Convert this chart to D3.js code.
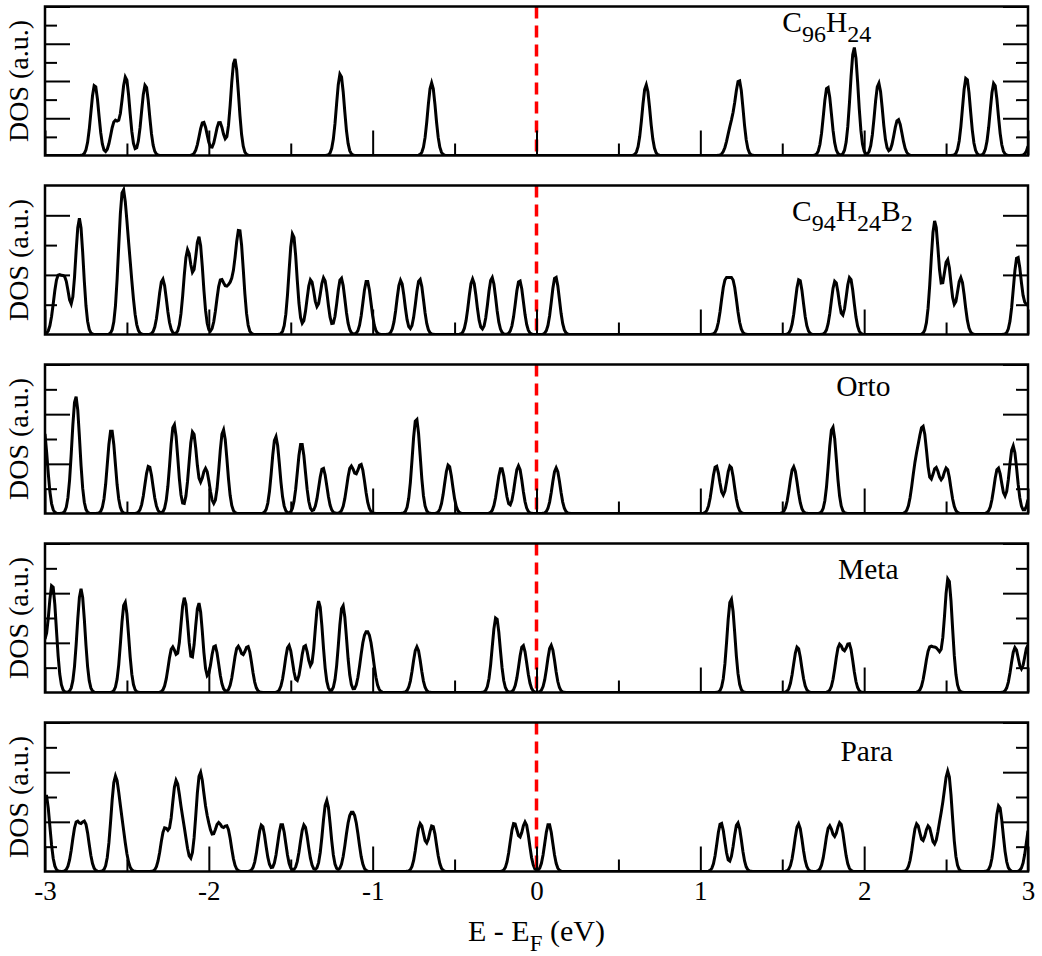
<!DOCTYPE html>
<html>
<head>
<meta charset="utf-8">
<script src="https://cdn.jsdelivr.net/npm/d3@7"></script>
<style>
    body { margin: 0; background: #fff; }
    svg { display: block; font-family: 'Liberation Serif', 'Times New Roman', serif; }
    .frame { fill: none; stroke: #000; stroke-width: 2.5; }
    .axis .tick line { stroke: #000; stroke-width: 2; }
    .axis .tick text { fill: #000; font-size: 27px; font-family: 'Liberation Serif', 'Times New Roman', serif; }
    .dos { fill: none; stroke: #000; stroke-width: 3; }
    .fermi { stroke: #f00; stroke-width: 3.5; stroke-dasharray: 12 7; }
    .label { fill: #000; }
</style>
</head>
<body>
<svg id="graph" width="1042" height="956"></svg>
<script>
// Energy window (eV) and x ticks
var energyRange = [-3, 3];
var xMajorTicks = [-3, -2, -1, 0, 1, 2, 3];
var xMinorTicks = [-2.5, -1.5, -0.5, 0.5, 1.5, 2.5];

// Panels, top to bottom
var panelNames = ['C96H24', 'C94H24B2', 'Orto', 'Meta', 'Para'];
var dosMax = [4, 2.5, 3, 3, 3];

// DOS peaks: energy (eV) and height (a.u.)
var c96h24Energy = [-2.696, -2.575, -2.507, -2.387, -2.034, -1.935, -1.842, -1.197, -0.640,
                    0.669, 1.187, 1.238, 1.776, 1.939, 2.088, 2.207, 2.624, 2.793, 3.04];
var c96h24Height = [1.9, 0.9, 2.1, 1.9, 0.9, 0.9, 2.6, 2.2, 1.95,
                    1.9, 0.7, 1.95, 1.85, 2.9, 1.95, 0.97, 2.1, 1.95, 1.0];

var c94h24b2Energy = [-2.925, -2.875, -2.79, -2.528, -2.485, -2.282, -2.13, -2.06, -1.93, -1.88,
                      -1.85, -1.812, -1.487, -1.378, -1.298, -1.193, -1.035, -0.829, -0.713,
                      -0.390, -0.272, -0.104, 0.116, 1.15, 1.20, 1.604, 1.823, 1.913,
                      2.431, 2.508, 2.590, 2.935, 3.0];
var c94h24b2Height = [0.87, 0.84, 1.95, 2.22, 0.95, 0.93, 1.4, 1.62, 0.85, 0.55,
                      0.35, 1.65, 1.7, 0.92, 0.95, 0.95, 0.91, 0.91, 0.93,
                      0.93, 0.96, 0.91, 0.97, 0.82, 0.82, 0.93, 0.9, 0.96,
                      1.9, 1.25, 0.95, 1.3, 0.45];

var ortoEnergy = [-3.01, -2.812, -2.595, -2.366, -2.213, -2.097, -2.019, -1.912, -1.592, -1.435,
                  -1.304, -1.134, -1.071, -0.734, -0.537, -0.215, -0.110, 0.120, 1.096, 1.183,
                  1.569, 1.807, 2.315, 2.362, 2.437, 2.504, 2.817, 2.909, 3.035];
var ortoHeight = [1.75, 2.36, 1.69, 0.96, 1.8, 1.65, 0.9, 1.69, 1.55, 1.42,
                  0.92, 0.92, 0.96, 1.92, 0.98, 0.92, 0.96, 0.92, 0.96, 0.96,
                  0.94, 1.75, 0.9, 1.6, 0.9, 0.9, 0.92, 1.36, 0.8];

var metaEnergy = [-3.02, -2.955, -2.780, -2.513, -2.223, -2.149, -2.061, -1.964, -1.824, -1.761,
                  -1.512, -1.414, -1.329, -1.183, -1.055, -1.015, -0.730, -0.246, -0.083, 0.089,
                  1.187, 1.593, 1.848, 1.909, 2.396, 2.445, 2.514, 2.921, 3.0];
var metaHeight = [1.0, 2.15, 2.09, 1.83, 0.9, 1.9, 1.8, 0.95, 0.9, 0.9,
                  0.95, 0.95, 1.84, 1.76, 0.87, 0.87, 0.92, 1.52, 0.95, 0.95,
                  1.89, 0.92, 0.93, 0.95, 0.8, 0.75, 2.3, 0.9, 0.95];

var paraEnergy = [-2.995, -2.81, -2.755, -2.574, -2.53, -2.27, -2.202, -2.155, -2.055, -2.005,
                  -1.943, -1.887, -1.677, -1.555, -1.418, -1.281, -1.145, -1.105, -0.709, -0.635,
                  -0.137, -0.068, 0.075, 1.126, 1.228, 1.599, 1.787, 1.854, 2.321, 2.392,
                  2.465, 2.514, 2.823, 3.015];
var paraHeight = [1.55, 0.93, 0.93, 1.76, 0.75, 0.85, 1.7, 0.75, 1.9, 0.8,
                  0.9, 0.85, 0.94, 0.96, 0.94, 1.43, 0.85, 0.85, 0.96, 0.92,
                  0.96, 0.98, 0.96, 0.98, 0.98, 0.96, 0.9, 0.97, 0.95, 0.9,
                  0.85, 1.9, 1.33, 1.0];

var peakEnergies = [c96h24Energy, c94h24b2Energy, ortoEnergy, metaEnergy, paraEnergy];
var peakHeights = [c96h24Height, c94h24b2Height, ortoHeight, metaHeight, paraHeight];

// Gaussian broadening of the levels (eV) and sampling step
var broadening = 0.024;
var step = 0.01;

function dosCurve(energies, heights) {
    var grid = d3.range(energyRange[0], energyRange[1] + step / 2, step);
    return grid.map(function(e) {
        var v = d3.sum(energies, (e0, k) => heights[k] * Math.exp(-(e - e0) * (e - e0) / (2 * broadening * broadening)));
        return [e, v];
    });
}

var graph = d3.select('#graph');

// Layout:
var left = 45, right = 1028;
var firstTop = 6.5, panelHeight = 149, pitch = 179;
var labelX = [1.5, 1.56, 1.83, 1.84, 1.855];
var labelDy = [25.5, 35.5, 31, 35, 38];

// Scales:
var xScale = d3.scaleLinear().domain(energyRange).range([left, right]);

panelNames.forEach(function(name, i) {
    var top = firstTop + i * pitch;
    var bottom = top + panelHeight;
    var yScale = d3.scaleLinear().domain([0, dosMax[i]]).range([bottom, top]);
    var panel = graph.append('g').classed('panel', true);

    panel.append('clipPath').attr('id', 'clip' + i)
         .append('rect').attr('x', left).attr('y', top)
         .attr('width', right - left).attr('height', panelHeight);

    // The DOS curve:
    var line = d3.line().x((d) => xScale(d[0])).y((d) => yScale(d[1]));
    panel.append('path').classed('dos', true)
         .attr('clip-path', 'url(#clip' + i + ')')
         .attr('d', line(dosCurve(peakEnergies[i], peakHeights[i])));

    // Fermi level:
    panel.append('line').classed('fermi', true)
         .attr('x1', xScale(0)).attr('x2', xScale(0))
         .attr('y1', top).attr('y2', bottom);

    // Axes (ticks point inward):
    var yMajor = d3.range(1, dosMax[i] + 0.01, 1);
    var yMinor = d3.range(0.5, dosMax[i], 1);
    var isLast = (i == panelNames.length - 1);

    var xMajor = d3.axisBottom(xScale).tickValues(xMajorTicks).tickSize(-25)
                   .tickPadding(9).tickFormat(isLast ? (d) => String(d) : '');
    panel.append('g').classed('axis', true)
         .attr('transform', 'translate(0, ' + bottom + ')').call(xMajor)
         .select('.domain').remove();
    panel.append('g').classed('axis', true)
         .attr('transform', 'translate(0, ' + bottom + ')')
         .call(d3.axisBottom(xScale).tickValues(xMinorTicks).tickSize(-12).tickFormat(''))
         .select('.domain').remove();

    [[d3.axisLeft, left], [d3.axisRight, right]].forEach(function(a) {
        panel.append('g').classed('axis', true)
             .attr('transform', 'translate(' + a[1] + ', 0)')
             .call(a[0](yScale).tickValues(yMajor).tickSize(-25).tickFormat(''))
             .select('.domain').remove();
        panel.append('g').classed('axis', true)
             .attr('transform', 'translate(' + a[1] + ', 0)')
             .call(a[0](yScale).tickValues(yMinor).tickSize(-12).tickFormat(''))
             .select('.domain').remove();
    });

    panel.append('rect').classed('frame', true)
         .attr('x', left).attr('y', top)
         .attr('width', right - left).attr('height', panelHeight);

    // Y label:
    panel.append('text').classed('label', true)
         .attr('font-size', 28)
         .attr('text-anchor', 'middle')
         .attr('transform', 'translate(28, ' + ((top + bottom) / 2) + ') rotate(-90)')
         .text('DOS (a.u.)');

    // Panel title, digits as subscripts:
    var title = panel.append('text').classed('label', true)
                     .attr('x', xScale(labelX[i])).attr('y', top + labelDy[i]);
    name.match(/[A-Za-z]+|\d+/g).forEach(function(part, k) {
        var sub = /\d/.test(part);
        title.append('tspan').text(part)
             .attr('font-size', sub ? 24 : 29.5)
             .attr('dy', sub ? 10 : (k > 0 ? -10 : 0));
    });
});

// X label:
var xLabel = graph.append('text').classed('label', true)
                  .attr('font-size', 30)
                  .attr('x', xScale(0)).attr('y', 941)
                  .attr('text-anchor', 'middle');
xLabel.append('tspan').text('E - E');
xLabel.append('tspan').text('F').attr('font-size', 23).attr('dy', 10);
xLabel.append('tspan').text(' (eV)').attr('dy', -10);
</script>
</body>
</html>
